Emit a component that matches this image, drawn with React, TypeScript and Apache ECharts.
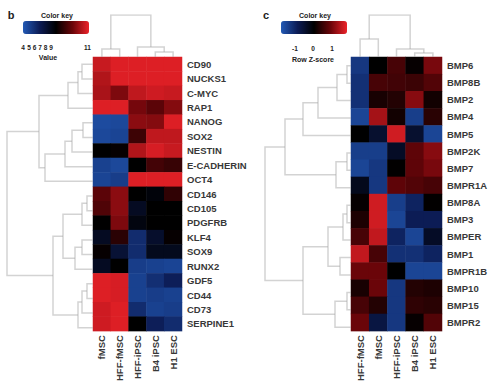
import React, { useEffect, useRef } from 'react';
import * as echarts from 'echarts';

// ---------- Panel b data ----------
const colsB = ['fMSC', 'HFF-fMSC', 'HFF-iPSC', 'B4 iPSC', 'H1 ESC'];
const rowsB = ['CD90', 'NUCKS1', 'C-MYC', 'RAP1', 'NANOG', 'SOX2', 'NESTIN', 'E-CADHERIN', 'OCT4',
  'CD146', 'CD105', 'PDGFRB', 'KLF4', 'SOX9', 'RUNX2', 'GDF5', 'CD44', 'CD73', 'SERPINE1'];
const valuesB: number[][] = [
  [10.5, 10.8, 10.8, 10.8, 10.8],
  [10.2, 10.8, 10.8, 10.8, 10.8],
  [10.1, 9.5, 10.4, 10.6, 10.5],
  [10.8, 10.8, 9.4, 9.0, 9.6],
  [4.4, 4.5, 9.7, 9.6, 10.8],
  [4.5, 4.6, 8.5, 10.4, 10.4],
  [7.5, 7.6, 10.2, 10.7, 10.5],
  [4.7, 4.5, 7.5, 8.6, 8.4],
  [4.6, 4.8, 10.8, 10.8, 10.8],
  [9.0, 9.7, 7.5, 7.3, 8.3],
  [8.8, 9.7, 6.8, 7.5, 7.5],
  [7.5, 9.5, 7.2, 7.5, 7.5],
  [6.8, 8.2, 5.3, 6.6, 7.6],
  [7.6, 6.4, 5.3, 6.9, 6.9],
  [6.8, 7.5, 4.8, 4.7, 4.6],
  [10.8, 10.7, 4.7, 5.2, 5.7],
  [10.8, 10.7, 4.7, 4.8, 4.7],
  [10.6, 10.8, 5.3, 4.7, 4.8],
  [10.6, 10.8, 7.5, 5.7, 5.3],
];
// hclust-style merges: negative = leaf (1-based display order), positive = earlier merge (1-based)
const rowMergeB: [number, number, number][] = [
  [-1, -2, 11], [1, -3, 15], [2, -4, 25],
  [-5, -6, 10], [4, -7, 21], [5, -8, 28], [6, -9, 48],
  [3, 7, 54],
  [-10, -11, 6], [9, -12, 11], [-13, -14, 11], [11, -15, 18], [10, 12, 30],
  [-16, -17, 6], [14, -18, 11], [15, -19, 15], [13, 16, 40],
  [8, 17, 86],
];
const colMergeB: [number, number, number][] = [[-1, -2, 8], [-4, -5, 5], [-3, 2, 10], [1, 3, 42]];
const keyTicksB = ['4', '5', '6', '7', '8', '9', '11'];

// ---------- Panel c data ----------
const colsC = ['HFF-fMSC', 'fMSC', 'HFF-iPSC', 'B4 iPSC', 'H1 ESC'];
const rowsC = ['BMP6', 'BMP8B', 'BMP2', 'BMP4', 'BMP5', 'BMP2K', 'BMP7', 'BMPR1A', 'BMP8A', 'BMP3',
  'BMPER', 'BMP1', 'BMPR1B', 'BMP10', 'BMP15', 'BMPR2'];
const valuesC: number[][] = [
  [-1.3, 0.0, 0.6, 0.05, 1.0],
  [-1.2, 0.6, 0.55, 0.5, 0.7],
  [-1.2, 0.2, 0.3, 1.1, 0.15],
  [-1.5, 1.3, 0.15, -1.4, 0.35],
  [0.0, -0.5, 1.6, -0.5, -1.5],
  [-1.4, -1.4, -0.4, 0.8, 1.1],
  [-1.5, -1.3, 0.02, 0.8, 1.0],
  [-0.3, -1.3, 0.8, 0.7, 0.6],
  [0.05, 1.6, -1.4, -1.0, 0.02],
  [0.25, 1.6, -1.5, -0.9, -0.9],
  [0.6, 1.5, -1.0, -1.5, -0.4],
  [1.5, 0.6, -1.2, -1.2, -1.0],
  [0.9, 0.9, 0.0, -1.5, -1.5],
  [0.2, 0.9, -1.3, 0.3, 0.25],
  [0.6, 0.3, -1.3, 0.4, 0.35],
  [0.9, -0.7, -1.3, 0.05, 0.7],
];
const rowMergeC: [number, number, number][] = [
  [-1, -2, 4], [1, -3, 14], [2, -4, 33], [3, -5, 48],
  [-6, -7, 4], [5, -8, 15], [4, 6, 66],
  [-9, -10, 4], [8, -11, 8], [-12, -13, 11], [9, 10, 23],
  [-14, -15, 4], [12, -16, 16], [11, 13, 48],
  [7, 14, 86],
];
const colMergeC: [number, number, number][] = [[-1, -2, 18], [-4, -5, 4], [-3, 2, 8], [1, 3, 42]];
const keyTicksC = ['-1', '0', '1'];

// ---------- layout ----------
const keyTickXB = [23, 29, 34.5, 40, 45.5, 51, 87.5];
const keyTickXC = [295, 313, 332];
const FONT = 'Liberation Sans, Arial, sans-serif';
const LINE = '#a8a8a8';
const COLORS = ['#2259b5', '#0c1c55', '#000000', '#6a0509', '#ec2229'];

function dendro(merge: [number, number, number][], orient: 'row' | 'col') {
  const pos: number[] = [];
  const hts: number[] = [];
  const out: any[] = [];
  merge.forEach(([a, b, h], k) => {
    const pa = a < 0 ? -a - 1 : pos[a - 1];
    const ha = a < 0 ? 0 : hts[a - 1];
    const pb = b < 0 ? -b - 1 : pos[b - 1];
    const hb = b < 0 ? 0 : hts[b - 1];
    pos[k] = (pa + pb) / 2;
    hts[k] = h;
    const pts = [[pa, ha], [pa, h], [pb, h], [pb, hb]];
    out.push({ coords: orient === 'col' ? pts : pts.map(([p, v]) => [v, p]) });
  });
  return out;
}

function heatData(vals: number[][]) {
  const d: number[][] = [];
  vals.forEach((row, r) => row.forEach((v, c) => d.push([c, r, v])));
  return d;
}

export default function App() {
  const ref = useRef<HTMLDivElement>(null);
  useEffect(() => {
    document.body.style.margin = '0';
    const chart = echarts.init(ref.current!, null, { renderer: 'svg' });
    const hb = { left: 93, top: 57, width: 89, height: 278 };
    const hc = { left: 351, top: 57, width: 91, height: 279 };
    const rootB = rowMergeB[rowMergeB.length - 1][2];
    const rootC = rowMergeC[rowMergeC.length - 1][2];
    const topB = colMergeB[colMergeB.length - 1][2];
    const topC = colMergeC[colMergeC.length - 1][2];
    const grid = [
      hb,
      { left: hb.left - rootB, top: hb.top, width: rootB, height: hb.height },
      { left: hb.left, top: hb.top - topB, width: hb.width, height: topB },
      hc,
      { left: hc.left - rootC, top: hc.top, width: rootC, height: hc.height },
      { left: hc.left, top: hc.top - topC, width: hc.width, height: topC },
    ];
    const rowLabel = { fontFamily: FONT, fontSize: 9.5, fontWeight: 'bold', color: '#383838', margin: 5 };
    const colLabel = { fontFamily: FONT, fontSize: 9.5, fontWeight: 'bold', color: '#383838', rotate: 90, margin: 4 };
    const hidden = { show: false };
    const mkAxes = (cols: string[], rows: string[], rootH: number, topH: number, gi: number) => ({
      x: [
        { type: 'category', data: cols, gridIndex: gi, axisLine: hidden, axisTick: hidden, axisLabel: colLabel, splitLine: hidden },
        { type: 'value', gridIndex: gi + 1, min: 0, max: rootH, inverse: true, show: false },
        { type: 'value', gridIndex: gi + 2, min: -0.5, max: cols.length - 0.5, show: false },
      ],
      y: [
        { type: 'category', data: rows, gridIndex: gi, inverse: true, position: 'right', axisLine: hidden, axisTick: hidden, axisLabel: rowLabel, splitLine: hidden },
        { type: 'value', gridIndex: gi + 1, min: -0.5, max: rows.length - 0.5, inverse: true, show: false },
        { type: 'value', gridIndex: gi + 2, min: 0, max: topH, show: false },
      ],
    });
    const aB = mkAxes(colsB, rowsB, rootB, topB, 0);
    const aC = mkAxes(colsC, rowsC, rootC, topC, 3);
    const lineStyle = { color: LINE, width: 1.5 };
    const lineSeries = (data: any[], ai: number) => ({
      type: 'lines', coordinateSystem: 'cartesian2d', xAxisIndex: ai, yAxisIndex: ai,
      polyline: true, data, lineStyle, silent: true,
    });
    const txt = (text: string, x: number, y: number, size: number, weight = 'bold', align = 'center') => ({
      type: 'text', x, y, style: { text, fontFamily: FONT, fontSize: size, fontWeight: weight, fill: '#222', align, verticalAlign: 'middle' },
    });
    chart.setOption({
      animation: false,
      grid,
      xAxis: [...aB.x, ...aC.x],
      yAxis: [...aB.y, ...aC.y],
      visualMap: [
        {
          type: 'continuous', min: 4, max: 11, seriesIndex: 0, orient: 'horizontal', left: 23, top: 21,
          itemWidth: 13, itemHeight: 66, text: ['', ''], calculable: false, padding: 0, showLabel: false,
          inRange: { color: COLORS },
        },
        {
          type: 'continuous', min: -1.8, max: 1.8, seriesIndex: 3, orient: 'horizontal', left: 281, top: 21,
          itemWidth: 13, itemHeight: 66, text: ['', ''], calculable: false, padding: 0, showLabel: false,
          inRange: { color: COLORS },
        },
      ],
      series: [
        { type: 'heatmap', xAxisIndex: 0, yAxisIndex: 0, data: heatData(valuesB), itemStyle: { borderWidth: 0 }, silent: true },
        lineSeries(dendro(rowMergeB, 'row'), 1),
        lineSeries(dendro(colMergeB, 'col'), 2),
        { type: 'heatmap', xAxisIndex: 3, yAxisIndex: 3, data: heatData(valuesC), itemStyle: { borderWidth: 0 }, silent: true },
        lineSeries(dendro(rowMergeC, 'row'), 4),
        lineSeries(dendro(colMergeC, 'col'), 5),
      ],
      graphic: [
        txt('b', 11, 15, 11),
        txt('c', 266, 15, 11),
        txt('Color key', 57, 15, 7),
        txt('Value', 48, 57, 7),
        txt('Color key', 315, 15, 7),
        txt('Row Z-score', 313, 59, 7),
        ...keyTicksB.map((t, i) => txt(t, keyTickXB[i], 47, 6.5)),
        ...keyTicksC.map((t, i) => txt(t, keyTickXC[i], 48, 6.5)),
      ],
    });
    return () => chart.dispose();
  }, []);
  return <div ref={ref} style={{ width: 492, height: 384 }} />;
}
